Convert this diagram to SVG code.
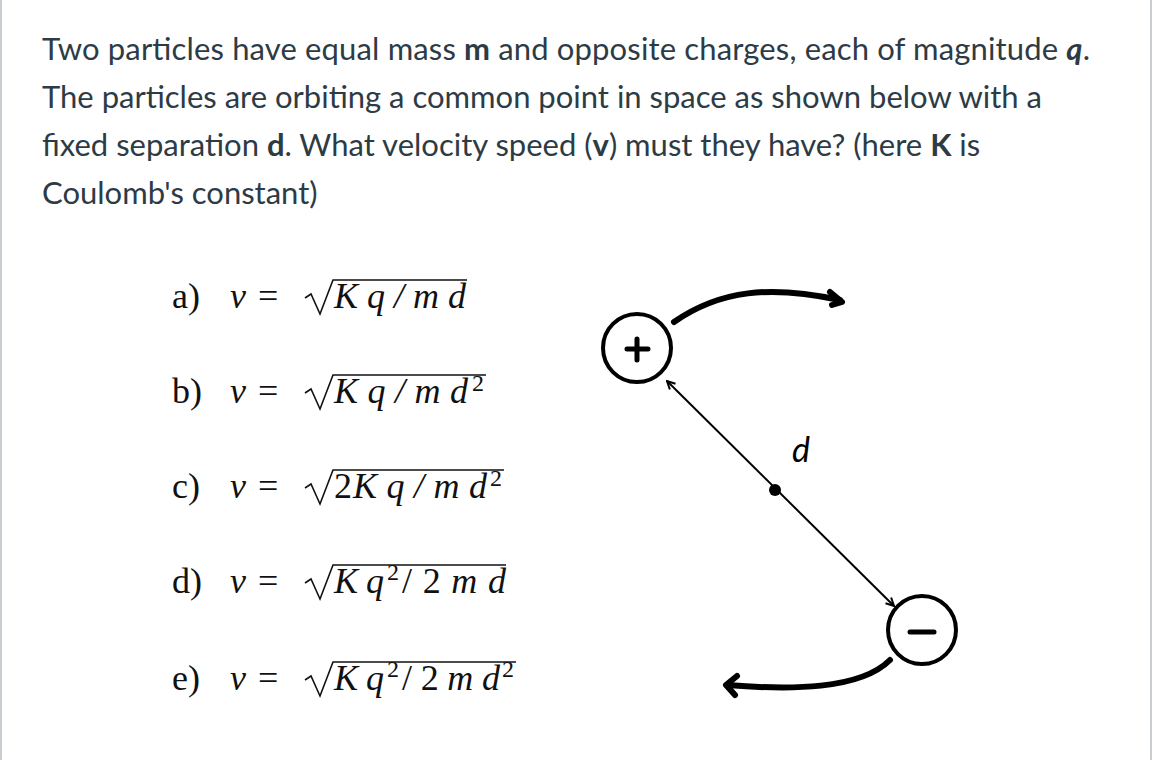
<svg xmlns="http://www.w3.org/2000/svg" width="1156" height="760" viewBox="0 0 1156 760">
<style>
.t{font-family:Lato,"Liberation Sans",sans-serif;font-size:31px;fill:#2d3b45}
.m{font-family:"Liberation Serif",serif;font-size:36px;fill:#111}
.i{font-style:italic}
.s{font-size:24px}
.rad{fill:none;stroke:#111;stroke-width:1.6}
.thick{fill:none;stroke:#000;stroke-width:6;stroke-linecap:round;stroke-linejoin:round}
</style>
<defs>
<marker id="ah" viewBox="0 0 10 10" refX="9" refY="5" markerWidth="10" markerHeight="10" orient="auto-start-reverse" markerUnits="userSpaceOnUse"><path d="M1,1 L9,5 L1,9" fill="none" stroke="#000" stroke-width="2"/></marker>
</defs>
<rect x="1" y="-2" width="1150" height="770" fill="#fff" stroke="#c7cdd1" stroke-width="2"/>
<g id="question">
<text class="t" x="42" y="60" textLength="1048">Two particles have equal mass <tspan font-weight="bold">m</tspan> and opposite charges, each of magnitude <tspan font-weight="bold" font-style="italic">q</tspan>.</text>
<text class="t" x="42" y="108">The particles are orbiting a common point in space as shown below with a</text>
<text class="t" x="42" y="156">fixed separation <tspan font-weight="bold">d</tspan>. What velocity speed (<tspan font-weight="bold">v</tspan>) must they have? (here <tspan font-weight="bold">K</tspan> is</text>
<text class="t" x="42" y="204">Coulomb's constant)</text>
</g>
<g id="answers">
<g id="ans-a"><text class="m" y="308"><tspan x="172">a)</tspan><tspan class="i" x="230">v</tspan><tspan x="258">=</tspan></text><path class="rad" d="M305,298 L311,294 L320,314 L333,280 L467,280"/><text class="m i" x="334" y="308" textLength="132">Kq/md</text></g>
<g id="ans-b"><text class="m" y="403"><tspan x="172">b)</tspan><tspan class="i" x="230">v</tspan><tspan x="258">=</tspan></text><path class="rad" d="M305,393 L311,389 L320,409 L333,375 L486,375"/><text class="m i" x="334" y="403" textLength="134">Kq/md</text><text class="m s" x="472" y="391">2</text></g>
<g id="ans-c"><text class="m" y="498"><tspan x="172">c)</tspan><tspan class="i" x="230">v</tspan><tspan x="258">=</tspan></text><path class="rad" d="M305,488 L311,484 L320,504 L333,470 L504,470"/><text class="m" x="334" y="498">2</text><text class="m i" x="353" y="498" textLength="134">Kq/md</text><text class="m s" x="490" y="486">2</text></g>
<g id="ans-d"><text class="m" y="593"><tspan x="172">d)</tspan><tspan class="i" x="230">v</tspan><tspan x="258">=</tspan></text><path class="rad" d="M305,583 L311,579 L320,599 L333,565 L506,565"/><text class="m i" x="334" y="593" textLength="50">Kq</text><text class="m s" x="387" y="580">2</text><text class="m" x="402" y="593" textLength="104">/2<tspan class="i">md</tspan></text></g>
<g id="ans-e"><text class="m" y="690"><tspan x="172">e)</tspan><tspan class="i" x="230">v</tspan><tspan x="258">=</tspan></text><path class="rad" d="M305,680 L311,676 L320,696 L333,662 L516,662"/><text class="m i" x="334" y="690" textLength="50">Kq</text><text class="m s" x="387" y="677">2</text><text class="m" x="402" y="690" textLength="98">/2<tspan class="i">md</tspan></text><text class="m s" x="502" y="677">2</text></g>
</g>
<g id="plus"><circle cx="637" cy="348" r="34" fill="none" stroke="#000" stroke-width="4"/><path d="M627,349 H648 M637,339 V360" stroke="#000" stroke-width="5" stroke-linecap="round"/></g>
<g id="minus"><circle cx="922" cy="630" r="34" fill="none" stroke="#000" stroke-width="4"/><path d="M910,632 H934" stroke="#000" stroke-width="5" stroke-linecap="round"/></g>
<g id="center"><circle cx="775" cy="490" r="6" fill="#000"/></g>
<g id="label-d"><text x="792" y="462" font-family="Lato,'Liberation Sans',sans-serif" font-size="34" font-style="italic">d</text></g>
<g id="connectors">
<line x1="667" y1="381" x2="894" y2="606" stroke="#000" stroke-width="2" marker-start="url(#ah)" marker-end="url(#ah)"/>
<path class="thick" d="M674,322 C720,290 770,285 840,300"/>
<path class="thick" d="M830,292 L842,302 L832,305"/>
<path class="thick" d="M890,660 C860,690 790,690 727,685"/>
<path class="thick" d="M737,676 L726,685 L735,695"/>
</g>
</svg>
